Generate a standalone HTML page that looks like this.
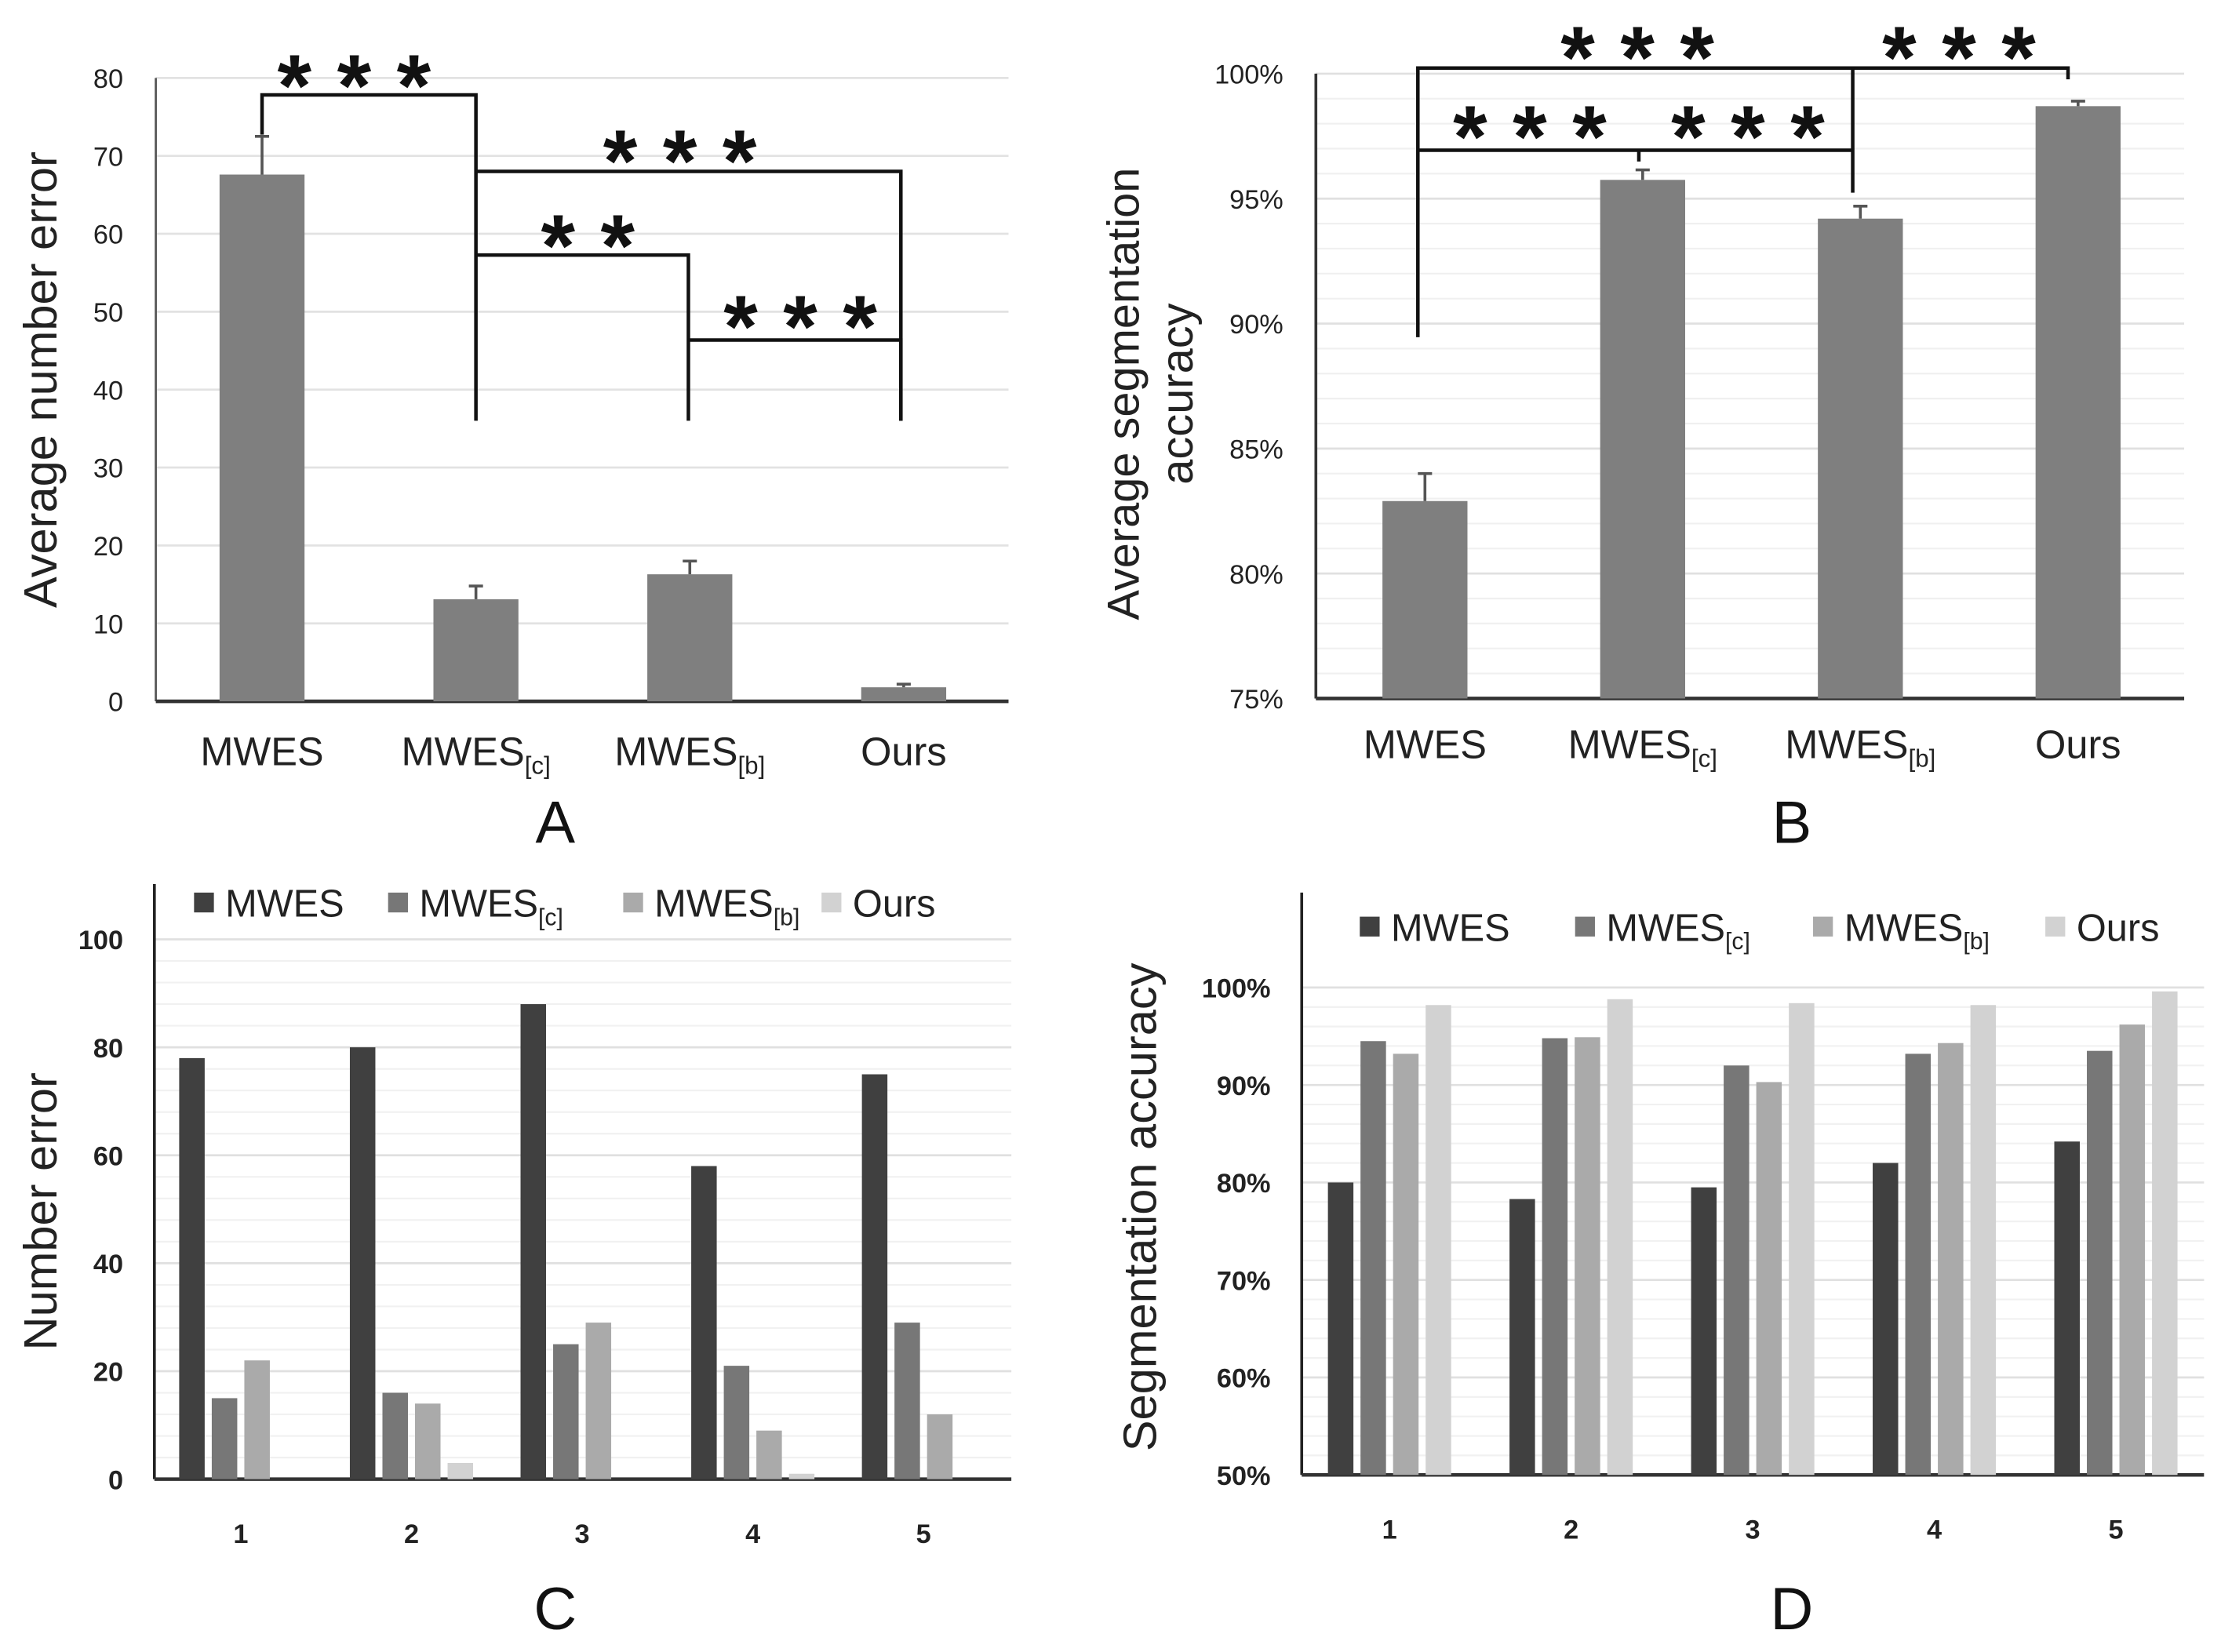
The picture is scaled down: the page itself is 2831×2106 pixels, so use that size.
<!DOCTYPE html>
<html><head><meta charset="utf-8"><style>
html,body{margin:0;padding:0;background:#fff}
svg{display:block}
text{font-family:"Liberation Sans",sans-serif}
</style></head><body>
<svg id="fig" width="2831" height="2106" viewBox="0 0 1568 1166" preserveAspectRatio="none" xmlns="http://www.w3.org/2000/svg">
<rect width="1568" height="1166" fill="#fff"/>
</svg>
<script>
// Panel A data
const aCategories = ["MWES","MWES[c]","MWES[b]","Ours"];
const aValues = [67.6, 13.1, 16.3, 1.8];
const aErrors = [72.5, 14.8, 18.0, 2.2];
const aTicks = [0,10,20,30,40,50,60,70,80];
// Panel B data
const bValues = [82.9, 95.75, 94.2, 98.7];
const bErrors = [84.0, 96.15, 94.7, 98.9];
const bTicks = [75,80,85,90,95,100];
// Panel C data
const cGroups = ["1","2","3","4","5"];
const cMWES = [78, 80, 88, 58, 75];
const cMWESc = [15, 16, 25, 21, 29];
const cMWESb = [22, 14, 29, 9, 12];
const cOurs = [0, 3, 0, 1, 0];
const cTicks = [0,20,40,60,80,100];
// Panel D data
const dMWES = [80.0, 78.3, 79.5, 82.0, 84.2];
const dMWESc = [94.5, 94.8, 92.0, 93.2, 93.5];
const dMWESb = [93.2, 94.9, 90.3, 94.3, 96.2];
const dOurs = [98.2, 98.8, 98.4, 98.2, 99.6];
const dTicks = [50,60,70,80,90,100];
const seriesNames = ["MWES","MWES[c]","MWES[b]","Ours"];
const seriesColors = ["#404040","#777777","#aaaaaa","#d2d2d2"];

const svg = document.getElementById('fig');
const NS = "http://www.w3.org/2000/svg";
function mk(tag, attrs, parent){
  const e = document.createElementNS(NS, tag);
  for (const k in attrs) e.setAttribute(k, attrs[k]);
  (parent||svg).appendChild(e);
  return e;
}
function label(parent, x, y, name, size, anchor, weight){
  const t = mk('text', {x:x, y:y, 'font-size':size, 'text-anchor':anchor||'middle', fill:'#222', 'font-weight':weight||'normal'}, parent);
  const m = name.match(/^(.*)(\[.\])$/);
  if (m){
    t.appendChild(document.createTextNode(m[1]));
    const s = mk('tspan', {'font-size':size*0.62, dy:size*0.22}, t);
    s.textContent = m[2];
  } else t.textContent = name;
  return t;
}
function hline(parent,x1,x2,y,color,w){ return mk('line',{x1:x1,x2:x2,y1:y,y2:y,stroke:color,'stroke-width':w},parent); }
function stars(parent, cx, cy, s){
  const t = mk('text',{x:cx+9,y:cy+30,'font-size':62,'font-weight':'bold','text-anchor':'middle',fill:'#111','letter-spacing':18},parent);
  t.textContent = s;
  
  
}

// ---------- Panel A ----------
(function(){
  const g = mk('g', {});
  
  
  const x0=110, x1=712, yb=495, yt=55, vmax=80;
  const y = v => yb - (v/vmax)*(yb-yt);
  const xc = i => 185 + i*151;
  aTicks.forEach(t=>{
    if (t>0) hline(g,x0,x1,y(t),'#e2e2e2',1.5);
    const tx = mk('text',{x:87,y:y(t)+7,'font-size':19,'text-anchor':'end',fill:'#222'},g);
    tx.textContent = t;
    
  });
  mk('line',{x1:x0,x2:x0,y1:yt,y2:yb,stroke:'#555','stroke-width':1.5},g);
  hline(g,x0,x1,yb,'#333',2.5);
  aValues.forEach((v,i)=>{
    const r = mk('rect',{x:xc(i)-30,y:y(v),width:60,height:yb-y(v),fill:'#7f7f7f'},g);
    
    
    mk('line',{x1:xc(i),x2:xc(i),y1:y(v),y2:y(aErrors[i]),stroke:'#555','stroke-width':2},g);
    hline(g,xc(i)-5,xc(i)+5,y(aErrors[i]),'#555',2);
    const l = label(g,xc(i),540,aCategories[i],28);
    
  });
  const yt2 = mk('text',{x:0,y:0,'font-size':33,'text-anchor':'middle',fill:'#222',transform:'translate(40,268) rotate(-90)'},g);
  yt2.textContent = 'Average number error';
  
  const L = mk('text',{x:392,y:595,'font-size':42,'text-anchor':'middle',fill:'#111'},g);
  L.textContent='A';
  
  const br = (pts)=>mk('polyline',{points:pts,fill:'none',stroke:'#111','stroke-width':2.5},g);
  br(`185,95 185,67 336,67 336,297`);
  br(`336,121 636,121 636,297`);
  br(`336,180 486,180 486,297`);
  br(`486,240 636,240 636,297`);
  stars(g,250,52,'***');
  stars(g,480,105,'***');
  stars(g,415,165,'**');
  stars(g,565,222,'***');
})();

// ---------- Panel B ----------
(function(){
  const g = mk('g', {});
  
  
  const x0=929, x1=1542, yb=493, yt=52, vmin=75, vmax=100;
  const y = v => yb - ((v-vmin)/(vmax-vmin))*(yb-yt);
  const xc = i => 1006 + i*153.7;
  for (let v=76; v<100; v++) if (v%5) hline(g,x0,x1,y(v),'#f0f0f0',1.2);
  bTicks.forEach(t=>{
    if (t>vmin) hline(g,x0,x1,y(t),'#e0e0e0',1.5);
    const tx = mk('text',{x:906,y:y(t)+7,'font-size':19,'text-anchor':'end',fill:'#222'},g);
    tx.textContent = t+'%';
    
  });
  mk('line',{x1:x0,x2:x0,y1:yt,y2:yb,stroke:'#333','stroke-width':2},g);
  hline(g,x0,x1,yb,'#333',2.5);
  bValues.forEach((v,i)=>{
    const r = mk('rect',{x:xc(i)-30,y:y(v),width:60,height:yb-y(v),fill:'#7f7f7f'},g);
    
    
    mk('line',{x1:xc(i),x2:xc(i),y1:y(v),y2:y(bErrors[i]),stroke:'#555','stroke-width':2},g);
    hline(g,xc(i)-5,xc(i)+5,y(bErrors[i]),'#555',2);
    const l = label(g,xc(i),535,aCategories[i],28);
    
  });
  const t1 = mk('text',{x:0,y:0,'font-size':32,'text-anchor':'middle',fill:'#222',transform:'translate(804,278) rotate(-90)'},g);
  t1.textContent='Average segmentation';
  
  const t2 = mk('text',{x:0,y:0,'font-size':32,'text-anchor':'middle',fill:'#222',transform:'translate(842,278) rotate(-90)'},g);
  t2.textContent='accuracy';
  
  const L = mk('text',{x:1265,y:595,'font-size':42,'text-anchor':'middle',fill:'#111'},g);
  L.textContent='B';
  
  const br = (pts)=>mk('polyline',{points:pts,fill:'none',stroke:'#111','stroke-width':2.5},g);
  br(`1001,238 1001,48 1460,48 1460,56`);
  br(`1308,48 1308,136`);
  br(`1001,106 1308,106`);
  br(`1157,106 1157,114`);
  stars(g,1156,32,'***');
  stars(g,1383,32,'***');
  stars(g,1080,88,'***');
  stars(g,1234,88,'***');
})();

// ---------- grouped panels ----------
function grouped(opts){
  const g = mk('g', {});
  
  
  const {x0,x1,yb,yt,vmin,vmax,axTop,gc,gs,series,ticks,fmt,minorStep} = opts;
  const y = v => yb - ((v-vmin)/(vmax-vmin))*(yb-yt);
  for (let v=vmin+minorStep; v<vmax+0.001; v+=minorStep) hline(g,x0,x1,y(v),'#f1f1f1',1.2);
  ticks.forEach(t=>{
    if (t>vmin) hline(g,x0,x1,y(t),'#e0e0e0',1.5);
    const tx = mk('text',{x:x0-22,y:y(t)+7,'font-size':19,'font-weight':'bold','text-anchor':'end',fill:'#222'},g);
    tx.textContent = fmt(t);
    
  });
  mk('line',{x1:x0,x2:x0,y1:axTop,y2:yb,stroke:'#222','stroke-width':2},g);
  hline(g,x0,x1,yb,'#333',2.5);
  cGroups.forEach((name,gi)=>{
    const c = gc + gi*gs;
    series.forEach((arr,si)=>{
      const v = arr[gi];
      const bx = c - 2*23 + si*23 + 2.5;
      const r = mk('rect',{x:bx,y:y(v),width:18,height:Math.max(0,yb-y(v)),fill:seriesColors[si]},g);
      
      
    });
    const t = mk('text',{x:c,y:yb+45,'font-size':19,'font-weight':'bold','text-anchor':'middle',fill:'#222'},g);
    t.textContent = name;
    
  });
  opts.legend.forEach((lx,si)=>{
    const sq = mk('rect',{x:lx,y:opts.ly-8,width:14,height:14,fill:seriesColors[si]},g);
    
    const l = label(g,lx+22,opts.ly+9,seriesNames[si],27,'start');
    
  });
  const yt2 = mk('text',{x:0,y:0,'font-size':33,'text-anchor':'middle',fill:'#222',transform:`translate(${opts.titleX},${opts.titleY}) rotate(-90)`},g);
  yt2.textContent = opts.title;
  
  const L = mk('text',{x:opts.letterX,y:1150,'font-size':42,'text-anchor':'middle',fill:'#111'},g);
  L.textContent = opts.letter;
  
}
grouped({name:'panel-c-chart',x0:109,x1:714,yb:1044,yt:663,vmin:0,vmax:100,axTop:624,gc:170,gs:120.5,
  series:[cMWES,cMWESc,cMWESb,cOurs],ticks:cTicks,fmt:t=>t,minorStep:4,
  legend:[137,274,440,580],ly:638,title:'Number error',titleX:40,titleY:855,letter:'C',letterX:392});
grouped({name:'panel-d-chart',x0:919,x1:1556,yb:1041,yt:697,vmin:50,vmax:100,axTop:630,gc:981,gs:128.2,
  series:[dMWES,dMWESc,dMWESb,dOurs],ticks:dTicks,fmt:t=>t+'%',minorStep:2,
  legend:[960,1112,1280,1444],ly:655,title:'Segmentation accuracy',titleX:816,titleY:852,letter:'D',letterX:1265});
</script>
</body></html>
